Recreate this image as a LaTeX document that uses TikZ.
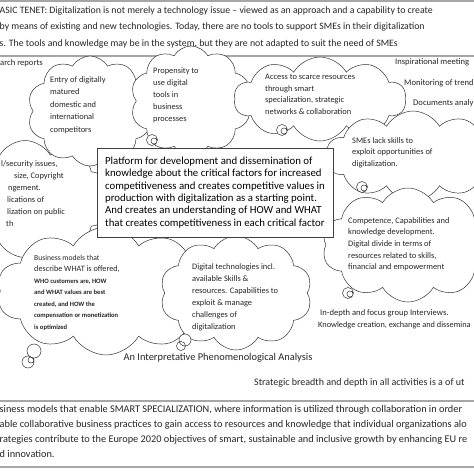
\documentclass[tikz,border=0pt]{standalone}
\usepackage{fontspec}
\setmainfont{Carlito}
\usetikzlibrary{shapes.symbols}

\begin{document}
\begin{tikzpicture}[
  x=1pt, y=-1pt,
  every node/.style={inner sep=0pt, text=black!85},
  idea/.style={cloud, draw=black!80, line width=0.5pt, fill=white, cloud puffs=10,
               cloud puff arc=120, cloud ignores aspect},
  puff/.style={draw=black!80, line width=0.5pt, fill=white},
  ideatxt/.style={anchor=north west, align=left, font=\fontsize{8.4}{12}\selectfont},
  band/.style={anchor=north west, align=left, font=\fontsize{9.8}{16.3}\selectfont},
  sepline/.style={draw=black!35, line width=1.4pt},
  method/.style={anchor=west, font=\fontsize{8.6}{9}\selectfont},
]
\useasboundingbox (0,0) rectangle (474,474);
\fill[white] (0,0) rectangle (474,474);
\clip (0,0) rectangle (474,474);

% ---- frame lines ----
\draw[sepline] (0,1) -- (474,1);
\draw[sepline] (0,56) -- (474,56);
\draw[sepline] (0,401) -- (474,401);
\draw[sepline] (0,467) -- (474,467);

% ---- basic tenet ----
\node[band] (tenet) at (-0.5,6.5) {ASIC TENET: Digitalization is not merely a technology issue -- viewed as an approach and a capability to create\\
by means of existing and new technologies. Today, there are no tools to support SMEs in their digitalization\\
s. The tools and knowledge may be in the system, but they are not adapted to suit the need of SMEs};

% ---- methods ----
\node[method] (rep) at (0,63) {arch reports};
\node[method] (insp) at (395,62) {Inspirational meeting};
\node[method] (monit) at (404,83) {Monitoring of trend};
\node[method] (docs) at (413,103) {Documents analy};

% ---- clouds ----
\node[idea, minimum width=172pt, minimum height=117pt] (leg) at (25,199) {};
\node[idea, minimum width=125pt, minimum height=110pt] (ent) at (90,111) {};
\node[idea, minimum width=121pt, minimum height=110pt] (prop) at (191,101) {};
\node[idea, minimum width=172pt, minimum height=84pt] (acc) at (320,99) {};
\node[idea, minimum width=174pt, minimum height=90pt] (sme) at (413,156) {};
\node[idea, minimum width=172pt, minimum height=114pt] (comp) at (408,245) {};
\node[idea, minimum width=218pt, minimum height=128pt] (biz) at (106,291) {};
\node[idea, minimum width=152pt, minimum height=114pt] (tech) at (236,293) {};

% ---- thought bubbles ----
\draw[puff] (152,140) circle (5.5pt) (154,141) circle (3pt);
\draw[puff] (282,130) circle (5.5pt) (284,131) circle (3pt);
\draw[puff] (362,187) circle (5.5pt) (364,188) circle (3pt);
\draw[puff] (348,293) circle (5.5pt) (350,294) circle (3pt);
\draw[puff] (185,340) circle (6pt) (181,346) circle (4.5pt);
\draw[puff] (34,351) circle (7pt) (28,362) circle (6pt) (31,360) circle (3pt);

% ---- cloud texts ----
\node[ideatxt] (legtxt) at (1,160.5) {l/security issues,\\
\hspace*{13pt}size, Copyright\\
\hspace*{7pt}ngement.\\
\hspace*{6pt}lications of\\
\hspace*{6pt}lization on public\\
\hspace*{5pt}th};
\node[ideatxt, font=\fontsize{8.4}{12.5}\selectfont] (enttxt) at (50,76) {Entry of digitally\\matured\\domestic and\\international\\competitors};
\node[ideatxt] (proptxt) at (153,68) {Propensity to\\use digital\\tools in\\business\\processes};
\node[ideatxt, font=\fontsize{8.4}{11.7}\selectfont] (acctxt) at (265,74) {Access to scarce resources\\through smart\\specialization, strategic\\networks \& collaboration};
\node[ideatxt, font=\fontsize{8.4}{11.7}\selectfont] (smetxt) at (352,137) {SMEs lack skills to\\exploit opportunities of\\digitalization.};
\node[ideatxt, font=\fontsize{8.4}{11.7}\selectfont] (comptxt) at (348,217) {Competence, Capabilities and\\knowledge development.\\Digital divide in terms of\\resources related to skills,\\financial and empowerment};
\node[ideatxt, font=\fontsize{7.6}{11.5}\selectfont] (biztxt) at (34,255) {Business models that\\
{\fontsize{8.2}{11.5}\selectfont describe WHAT is offered,}\\
{\fontsize{6.6}{11.5}\selectfont\bfseries WHO customers are, HOW}\\
{\fontsize{6.6}{11.5}\selectfont\bfseries and WHAT values are best}\\
{\fontsize{6.6}{11.5}\selectfont\bfseries created, and HOW the}\\
{\fontsize{6.6}{11.5}\selectfont\bfseries compensation or monetization}\\
{\fontsize{6.6}{11.5}\selectfont\bfseries is optimized}};
\node[ideatxt] (techtxt) at (192,263) {Digital technologies incl.\\available Skills \&\\resources. Capabilities to\\exploit \& manage\\challenges of\\digitalization};

% ---- platform ----
\node[draw=black!75, line width=0.6pt, fill=white, minimum width=236pt, minimum height=89pt,
      align=left, font=\fontsize{10.8}{12.4}\selectfont, text=black] (plat) at (215,192.5)
  {Platform for development and dissemination of\\
   knowledge about the critical factors for increased\\
   competitiveness and creates competitive values in\\
   production with digitalization as a starting point.\\
   And creates an understanding of HOW and WHAT\\
   that creates competitiveness in each critical factor};

% ---- analysis ----
\node[method] (interv) at (320,313) {In-depth and focus group Interviews.};
\node[method, font=\fontsize{8.3}{9}\selectfont] (exch) at (318,325) {Knowledge creation, exchange and dissemina};
\node[font=\fontsize{10.4}{11}\selectfont] (ipa) at (218,358) {An Interpretative Phenomenological Analysis};
\node[anchor=west, font=\fontsize{10}{10}\selectfont] (breadth) at (254,383) {Strategic breadth and depth in all activities is a of ut};

% ---- smart specialization ----
\node[band, font=\fontsize{10.3}{15}\selectfont] (smart) at (-0.5,405) {siness models that enable SMART SPECIALIZATION, where information is utilized through collaboration in order\\
able collaborative business practices to gain access to resources and knowledge that individual organizations alo\\
rategies contribute to the Europe 2020 objectives of smart, sustainable and inclusive growth by enhancing EU re\\
d innovation.};
\end{tikzpicture}
\end{document}
